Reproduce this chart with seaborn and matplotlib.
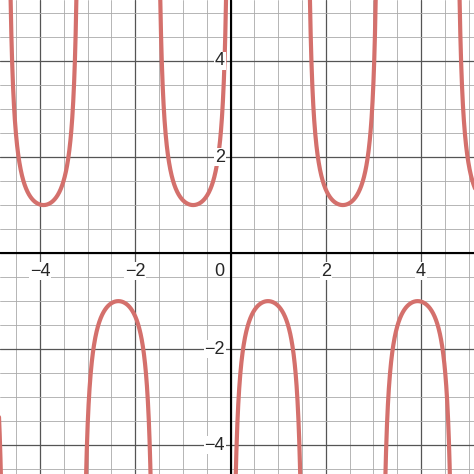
import numpy as np
import pandas as pd
import matplotlib.pyplot as plt
import seaborn as sns

# y = -csc(2x), branches between asymptotes at multiples of pi/2
x_min, x_max = -4.84, 5.11
y_min, y_max = -4.6, 5.27
x_ticks = [-4, -2, 2, 4]
y_ticks = [-4, -2, 2, 4]

sns.set_theme(style="white")
plt.rcParams['font.family'] = ['Arial', 'Liberation Sans', 'DejaVu Sans']

fig = plt.figure(figsize=(4.74, 4.74), dpi=100)
ax = fig.add_axes([0, 0, 1, 1])

for v in np.arange(-5, 5.6, 0.5):
    ax.axvline(v, color='#555555' if v % 2 == 0 else '#aaaaaa', lw=0.9 if v % 2 == 0 else 0.6, zorder=0)
for v in np.arange(-5, 5.6, 0.5):
    ax.axhline(v, color='#555555' if v % 2 == 0 else '#aaaaaa', lw=0.9 if v % 2 == 0 else 0.6, zorder=0)
ax.axhline(0, color='black', lw=1.5, zorder=1)
ax.axvline(0, color='black', lw=1.5, zorder=1)

edges = np.arange(-4, 5) * np.pi / 2
frames = []
for i, (a, b) in enumerate(zip(edges[:-1], edges[1:])):
    xs = np.linspace(a + 0.005, b - 0.005, 400)
    frames.append(pd.DataFrame({'x': xs, 'y': -1 / np.sin(2 * xs), 'branch': i}))
df = pd.concat(frames)
df = df[(df.y > -6) & (df.y < 6)]
sns.lineplot(data=df, x='x', y='y', units='branch', estimator=None, sort=False,
             color='#d4706c', lw=3, ax=ax, legend=False, zorder=3)

for t in x_ticks:
    ax.text(t, -0.2, str(t).replace('-', '−'), ha='center', va='top', fontsize=13, zorder=4,
            bbox=dict(fc='white', ec='none', pad=0.5))
for t in y_ticks:
    ax.text(-0.12, t, str(t).replace('-', '−'), ha='right', va='center', fontsize=13, zorder=4,
            bbox=dict(fc='white', ec='none', pad=0.5))
ax.text(-0.12, -0.2, '0', ha='right', va='top', fontsize=13, zorder=4)

ax.set_xlim(x_min, x_max)
ax.set_ylim(y_min, y_max)
ax.set_xlabel('')
ax.set_ylabel('')
ax.set_xticks([])
ax.set_yticks([])
for s in ax.spines.values():
    s.set_visible(False)

fig.savefig('out.png', dpi=100)
